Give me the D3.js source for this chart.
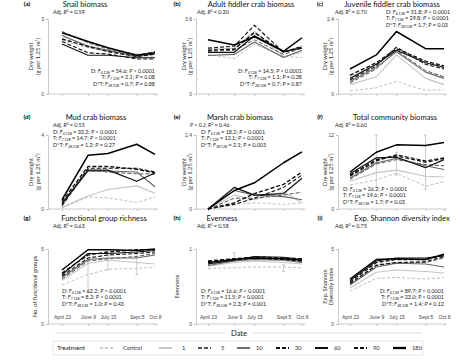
<!DOCTYPE html>
<html>
<head>
<meta charset="utf-8">
<script src="https://cdn.jsdelivr.net/npm/d3@7"></script>
<style>
  body { margin: 0; background: #fff; }
  svg { font-family: Lato, "Open Sans", sans-serif; }
  .axis path, .axis line { stroke: #bbb; stroke-width: 0.8; }
  .axis text { fill: #444; font-size: 5px; }
</style>
</head>
<body>
<div id="chart"></div>
<script>
// sampling dates and treatments
const dates = ["2015-04-23", "2015-06-09", "2015-07-15", "2015-09-05", "2015-10-08"];
const dateLabels = ["April 23", "June 9", "July 15", "Sept 5", "Oct 8"];
const treatments = ["Control", "1", "5", "10", "30", "60", "90", "180"];

// values per treatment (Control, 1, 5, 10, 30, 60, 90, 180), one value per date
const snail = [
  [2.15, 1.85, 1.7, 1.55, 1.5],
  [2.3, 1.95, 1.75, 1.6, 1.6],
  [2.5, 2.05, 1.8, 1.55, 1.7],
  [2.35, 1.9, 1.75, 1.5, 1.6],
  [2.1, 1.65, 1.6, 1.4, 1.4],
  [2.0, 1.55, 1.55, 1.45, 1.45],
  [2.2, 1.9, 1.7, 1.5, 1.6],
  [2.45, 2.1, 1.85, 1.55, 1.65]
];
const adultFiddler = [
  [1.9, 1.7, 2.4, 1.8, 1.75],
  [2.15, 2.2, 3.0, 1.8, 2.0],
  [2.05, 2.1, 2.6, 1.9, 2.2],
  [1.85, 1.9, 2.5, 1.75, 2.1],
  [2.2, 2.3, 3.3, 2.0, 2.3],
  [2.0, 2.0, 2.8, 2.05, 2.2],
  [2.1, 2.15, 2.95, 2.0, 2.25],
  [2.6, 2.35, 2.75, 2.05, 2.7]
];
const juvFiddler = [
  [0.1, 0.2, 0.4, 0.12, 0.13],
  [0.3, 0.55, 1.25, 0.5, 0.3],
  [0.35, 0.8, 1.4, 0.75, 0.55],
  [0.4, 0.85, 1.35, 0.7, 0.5],
  [0.45, 0.9, 1.5, 0.95, 0.8],
  [0.5, 0.95, 1.4, 1.0, 0.85],
  [0.6, 1.0, 1.45, 1.05, 0.9],
  [0.8, 1.25, 2.0, 1.45, 1.45]
];
const mudCrab = [
  [0.05, 0.65, 0.6, 0.35, 0.65],
  [0.1, 0.7, 1.05, 1.25, 0.85],
  [0.15, 2.1, 2.0, 1.9, 1.9],
  [0.25, 2.05, 2.05, 2.0, 1.2],
  [0.2, 2.2, 2.2, 2.2, 2.0],
  [0.3, 2.1, 2.1, 1.5, 1.95],
  [0.4, 2.3, 2.3, 2.15, 1.95],
  [0.5, 2.9, 3.0, 3.5, 2.95]
];
const marshCrab = [
  [0, 0.15, 0.2, 0.15, 0.2],
  [0, 0.45, 0.3, 0.55, 0.2],
  [0, 0.35, 0.35, 0.45, 0.55],
  [0, 0.6, 0.45, 0.4, 0.3],
  [0, 0.15, 0.35, 0.7, 1.1],
  [0, 0.7, 0.45, 0.5, 1.0],
  [0, 0.2, 0.5, 0.8, 1.2],
  [0, 0.6, 0.85, 1.5, 1.85]
];
const totalBiomass = [
  [3.9, 4.7, 5.8, 3.7, 4.4],
  [4.5, 5.9, 6.3, 5.3, 5.2],
  [4.8, 7.3, 8.0, 7.2, 7.0],
  [5.0, 7.5, 8.2, 7.0, 6.4],
  [5.3, 7.8, 8.8, 7.8, 8.3],
  [5.7, 8.3, 8.4, 6.7, 8.0],
  [5.5, 8.0, 8.6, 7.6, 8.2],
  [6.0, 9.2, 10.4, 10.3, 10.8]
];
const richness = [
  [2.6, 3.3, 3.65, 3.7, 3.8],
  [2.9, 4.05, 4.25, 4.1, 4.0],
  [3.0, 4.2, 4.35, 4.5, 4.7],
  [3.1, 4.3, 4.4, 4.4, 4.6],
  [3.2, 4.4, 4.6, 4.7, 4.8],
  [3.3, 4.7, 4.7, 4.8, 4.9],
  [3.4, 4.6, 4.8, 4.95, 4.95],
  [3.6, 4.95, 4.95, 4.9, 5.0]
];
const evenness = [
  [0.74, 0.75, 0.76, 0.76, 0.75],
  [0.77, 0.82, 0.84, 0.82, 0.8],
  [0.8, 0.85, 0.87, 0.86, 0.83],
  [0.78, 0.84, 0.86, 0.85, 0.82],
  [0.83, 0.87, 0.88, 0.86, 0.84],
  [0.8, 0.85, 0.9, 0.89, 0.86],
  [0.84, 0.87, 0.89, 0.88, 0.87],
  [0.82, 0.86, 0.88, 0.87, 0.85]
];
const shannon = [
  [2.2, 3.05, 3.1, 3.0, 3.1],
  [2.4, 3.45, 3.6, 3.5, 3.4],
  [2.65, 3.95, 4.1, 4.1, 4.4],
  [2.6, 3.8, 4.05, 4.0, 3.8],
  [2.7, 3.9, 4.1, 4.15, 4.5],
  [2.9, 4.2, 4.4, 4.4, 4.55],
  [2.8, 4.1, 4.3, 4.3, 4.6],
  [3.0, 4.3, 4.35, 4.3, 4.65]
];

// error bars [date index, low, high]
const errTotal = [[1, 3.5, 12], [2, 5.5, 9.2], [3, 3.2, 12]];
const errRichness = [[1, 2.1, 4.7], [2, 3.6, 4.6], [3, 3.3, 4.9]];
const errEvenness = [[1, 0.86, 0.95], [3, 0.7, 0.79]];

// statistics: [F(D), P(D), F(T), P(T), F(DxT), P(DxT)]
const statsA = ["54.6", "< 0.0001", "2.1", "= 0.08", "0.7", "= 0.88"];
const statsB = ["14.5", "< 0.0001", "1.1", "= 0.38", "0.7", "= 0.87"];
const statsC = ["51.8", "< 0.0001", "29.8", "< 0.0001", "1.7", "= 0.03"];
const statsD = ["33.2", "< 0.0001", "14.7", "< 0.0001", "1.2", "= 0.27"];
const statsE = ["18.2", "< 0.0001", "12.1", "< 0.0001", "2.1", "= 0.003"];
const statsF = ["26.2", "< 0.0001", "19.6", "< 0.0001", "1.7", "= 0.03"];
const statsG = ["62.2", "< 0.0001", "8.2", "< 0.0001", "1.0", "= 0.43"];
const statsH = ["16.6", "< 0.0001", "11.5", "< 0.0001", "2.3", "= 0.001"];
const statsI = ["89.7", "< 0.0001", "23.0", "< 0.0001", "1.4", "= 0.12"];

const width = 474, height = 363;
const parse = d3.timeParse("%Y-%m-%d");
const dateValues = dates.map(parse);

// line style per treatment
const styles = [
  { color: "#b8b8b8", w: 0.9, dash: "3,2" },
  { color: "#c4c4c4", w: 1.1, dash: null },
  { color: "#555", w: 1.0, dash: "4,2" },
  { color: "#666", w: 1.1, dash: null },
  { color: "#111", w: 1.1, dash: "4,2" },
  { color: "#111", w: 1.2, dash: null },
  { color: "#111", w: 1.4, dash: "4,2" },
  { color: "#000", w: 1.5, dash: null }
];

// panel layout
const colAxis = [48, 196, 338], colFirst = [62, 208, 350], colLast = [155, 302, 444];
const rowTop = [19, 135, 249], rowBottom = [94, 209, 324];
const labelOffsets = [[-15, -8], [-10, -4], [-11, -5]];

const panels = [
  { letter: "(a)", title: "Snail biomass", r2: "0.59", yMax: 3, yTick: "3", data: snail, stats: statsA, statsPos: "br", ylab: ["Dry weight", "(g per 1.25 m²)"] },
  { letter: "(b)", title: "Adult fiddler crab biomass", r2: "0.30", yMax: 3.6, yTick: "3.6", data: adultFiddler, stats: statsB, statsPos: "br", ylab: ["Dry weight", "(g per 1.25 m²)"] },
  { letter: "(c)", title: "Juvenile fiddler crab biomass", r2: "0.70", yMax: 2.4, yTick: "2.4", data: juvFiddler, stats: statsC, statsPos: "tr", ylab: ["Dry weight", "(g per 1.25 m²)"] },
  { letter: "(d)", title: "Mud crab biomass", r2: "0.55", yMax: 4, yTick: "4", data: mudCrab, stats: statsD, statsPos: "tl", ylab: ["Dry weight", "(g per 1.25 m²)"] },
  { letter: "(e)", title: "Marsh crab biomass", r2: "0.46", r2Pre: true, yMax: 2.4, yTick: "2.4", data: marshCrab, stats: statsE, statsPos: "tl", ylab: ["Dry weight", "(g per 1.25 m²)"] },
  { letter: "(f)", title: "Total community biomass", r2: "0.60", yMax: 12, yTick: "12", data: totalBiomass, stats: statsF, statsPos: "bl", ylab: ["Dry weight", "(g per 1.25 m²)"], err: errTotal },
  { letter: "(g)", title: "Functional group richness", r2: "0.63", yMax: 5, yTick: "5", data: richness, stats: statsG, statsPos: "bl", ylab: ["No. of functional groups"], err: errRichness },
  { letter: "(h)", title: "Evenness", r2: "0.58", yMax: 1, yTick: "1", data: evenness, stats: statsH, statsPos: "bl", ylab: ["Evenness"], err: errEvenness },
  { letter: "(i)", title: "Exp. Shannon diversity index", r2: "0.75", yMax: 5, yTick: "5", data: shannon, stats: statsI, statsPos: "br", ylab: ["Exp. Shannon", "Diversity Index"] }
];

const svg = d3.select("#chart").append("svg")
  .attr("width", width)
  .attr("height", height);

svg.append("rect").attr("width", width).attr("height", height).attr("fill", "#fff");

function statLine(g, x, y, anchor, prefix, sub, f, p) {
  const t = g.append("text")
    .attr("x", x).attr("y", y)
    .attr("text-anchor", anchor)
    .attr("font-size", 5.4)
    .attr("fill", "#222");
  t.append("tspan").text(prefix + ": ");
  t.append("tspan").attr("font-style", "italic").text("F");
  t.append("tspan").attr("font-size", 3.6).attr("dy", 0.9).text(sub);
  t.append("tspan").attr("dy", -0.9).text(" = " + f + "; ");
  t.append("tspan").attr("font-style", "italic").text("P");
  t.append("tspan").text(" " + p);
}

panels.forEach((p, i) => {
  const col = i % 3, row = Math.floor(i / 3);
  const g = svg.append("g");
  const x = d3.scaleTime().domain([dateValues[0], dateValues[4]]).range([colFirst[col], colLast[col]]);
  const y = d3.scaleLinear().domain([0, p.yMax]).range([rowBottom[row], rowTop[row]]);

  // axes
  g.append("g")
    .attr("class", "axis")
    .attr("transform", `translate(${colAxis[col]},0)`)
    .call(d3.axisLeft(y).tickValues([0, p.yMax]).tickSize(2).tickPadding(2).tickFormat((d) => d === 0 ? "0" : p.yTick));

  const xAxis = g.append("g")
    .attr("class", "axis")
    .attr("transform", `translate(0,${rowBottom[row]})`)
    .call(d3.axisBottom(x).tickValues(dateValues).tickSize(2)
      .tickFormat((d, k) => row === 2 ? dateLabels[k] : ""));
  xAxis.select(".domain").attr("d", `M${colAxis[col]},0H${colLast[col] + 3}`);
  xAxis.selectAll("text").attr("y", -9).attr("font-size", 5.2).attr("fill", "#333");

  // error bars
  (p.err || []).forEach((e) => {
    const ex = x(dateValues[e[0]]);
    g.append("line")
      .attr("x1", ex).attr("x2", ex)
      .attr("y1", y(e[1])).attr("y2", y(e[2]))
      .attr("stroke", "#aaa").attr("stroke-width", 0.6);
    [e[1], e[2]].forEach((v) => {
      g.append("line")
        .attr("x1", ex - 1.5).attr("x2", ex + 1.5)
        .attr("y1", y(v)).attr("y2", y(v))
        .attr("stroke", "#aaa").attr("stroke-width", 0.6);
    });
  });

  // series lines
  const line = d3.line()
    .x((d, k) => x(dateValues[k]))
    .y((d) => y(d));

  g.selectAll(".series")
    .data(p.data)
    .enter()
    .append("path")
    .attr("class", "series")
    .attr("d", (d) => line(d))
    .attr("fill", "none")
    .attr("stroke", (d, k) => styles[k].color)
    .attr("stroke-width", (d, k) => styles[k].w)
    .attr("stroke-dasharray", (d, k) => styles[k].dash)
    .attr("stroke-linejoin", "round");

  // titles
  const titleY = [7, 120, 221][row];
  const titleX = [[85, 251, 392], [96, 240, 395], [104, 222, 402]][row][col];
  g.append("text")
    .attr("x", [27, 177, 320][col]).attr("y", titleY - 1)
    .attr("font-size", 6.3).attr("font-weight", "bold")
    .attr("text-anchor", "middle")
    .text(p.letter);
  g.append("text")
    .attr("x", titleX).attr("y", titleY)
    .attr("font-size", 7.6).attr("text-anchor", "middle").attr("fill", "#111")
    .text(p.title);
  const r2 = g.append("text")
    .attr("x", [53, 197, 335][col] - (p.r2Pre ? 7 : 0)).attr("y", titleY + 7)
    .attr("font-size", 5.3).attr("fill", "#222");
  r2.append("tspan").text(p.r2Pre ? "" : "Adj. ");
  if (p.r2Pre) {
    r2.append("tspan").attr("font-style", "italic").text("P");
    r2.append("tspan").text(" < 0.J; ");
  }
  r2.append("tspan").attr("font-style", "italic").text("R");
  r2.append("tspan").attr("font-size", 3.5).attr("dy", -2).text("2");
  r2.append("tspan").attr("dy", 2).text(" = " + p.r2);

  // y label
  const off = labelOffsets[col];
  const midY = (rowTop[row] + rowBottom[row]) / 2;
  p.ylab.forEach((lab, k) => {
    const lx = p.ylab.length === 1 ? colAxis[col] + (col === 0 ? -11 : -17) : colAxis[col] + off[k];
    g.append("text")
      .attr("transform", `translate(${lx},${midY}) rotate(-90)`)
      .attr("text-anchor", "middle")
      .attr("font-size", 5.8)
      .attr("fill", "#333")
      .text(lab);
  });

  // statistics
  let sx, sy, anchor;
  if (p.statsPos === "br") { sx = colLast[col]; sy = rowBottom[row] - (row === 2 ? 31 : 21); anchor = "end"; }
  else if (p.statsPos === "tr") { sx = colFirst[col] + 36; sy = rowTop[row] - 5; anchor = "start"; }
  else if (p.statsPos === "tl") { sx = colAxis[col] + 5; sy = rowTop[row] - 1; anchor = "start"; }
  else { sx = colAxis[col] + 5 + (row === 2 && col === 0 ? 9 : 0); sy = rowBottom[row] - (row === 2 ? 31 : 18); anchor = "start"; }
  statLine(g, sx, sy, anchor, "D", "4,128", p.stats[0], p.stats[1]);
  statLine(g, sx, sy + 6.4, anchor, "T", "7,128", p.stats[2], p.stats[3]);
  statLine(g, sx, sy + 12.8, anchor, "D*T", "28,128", p.stats[4], p.stats[5]);
});

// shared x label
svg.append("line").attr("x1", 55).attr("x2", 225).attr("y1", 333).attr("y2", 333).attr("stroke", "#ccc").attr("stroke-width", 0.7);
svg.append("line").attr("x1", 253).attr("x2", 422).attr("y1", 333).attr("y2", 333).attr("stroke", "#ccc").attr("stroke-width", 0.7);
svg.append("text").attr("x", 239).attr("y", 336).attr("text-anchor", "middle")
  .attr("font-size", 7.5).attr("fill", "#222").text("Date");

// legend
const legend = svg.append("g");
legend.append("rect")
  .attr("x", 53).attr("y", 341).attr("width", 370).attr("height", 14)
  .attr("fill", "none").attr("stroke", "#ddd").attr("stroke-width", 0.7);
legend.append("text").attr("x", 57).attr("y", 350).attr("font-size", 6.3).attr("fill", "#222").text("Treatment");

const legendX = d3.scalePoint().domain(treatments.slice(1)).range([159, 393]);
const items = legend.selectAll(".item")
  .data(treatments)
  .enter()
  .append("g")
  .attr("transform", (d, k) => `translate(${k === 0 ? 100 : legendX(d)},348)`);
items.append("line")
  .attr("x1", 0).attr("x2", (d, k) => k === 0 ? 15 : 13)
  .attr("stroke", (d, k) => styles[k].color)
  .attr("stroke-width", (d, k) => styles[k].w + 0.8)
  .attr("stroke-dasharray", (d, k) => styles[k].dash);
items.append("text")
  .attr("x", (d, k) => k === 0 ? 23 : (d.length > 1 ? 19 : 23))
  .attr("y", 2)
  .attr("font-size", 5.8)
  .attr("fill", "#333")
  .text((d) => d);
</script>
</body>
</html>
